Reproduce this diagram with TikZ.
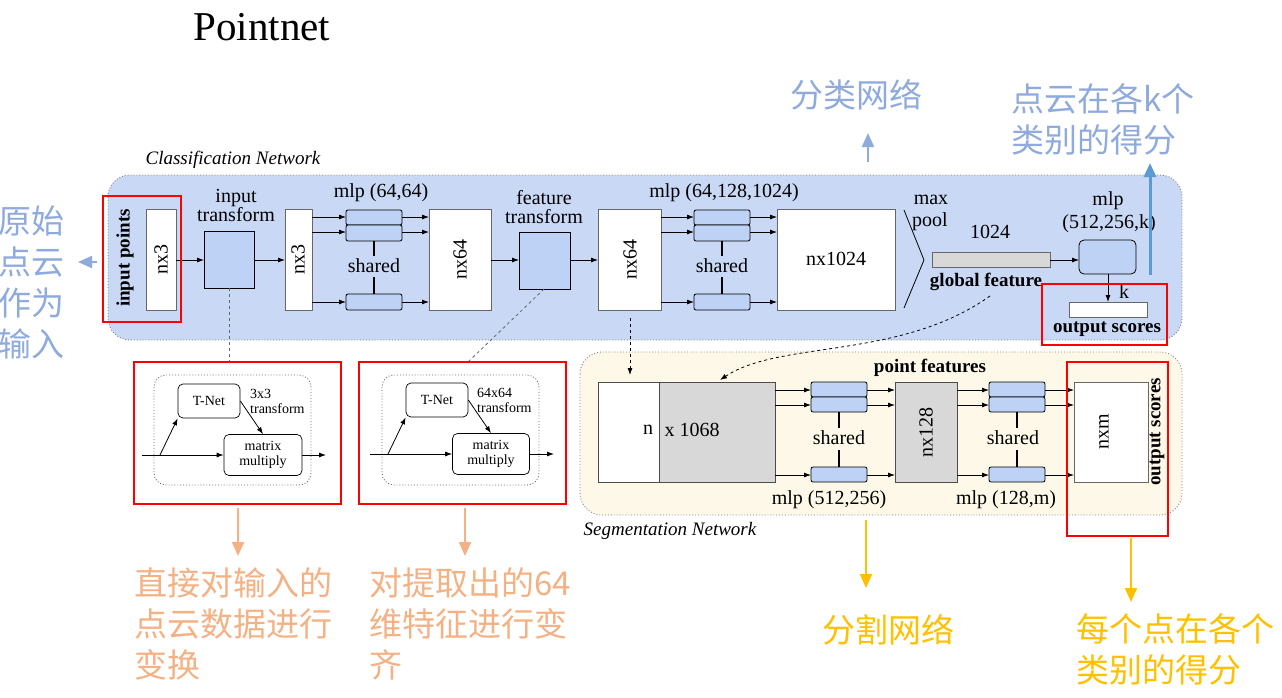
\documentclass[tikz,border=0pt]{standalone}
\usepackage{fontspec}
\setmainfont{Liberation Serif}
\newfontfamily\cjk{Noto Sans CJK SC}
\usetikzlibrary{arrows.meta,calc}
\definecolor{clsbg}{RGB}{200,216,245}
\definecolor{segbg}{RGB}{253,248,232}
\definecolor{boxblue}{RGB}{190,210,245}
\definecolor{annblue}{RGB}{143,170,220}
\definecolor{arrblue}{RGB}{91,155,213}
\definecolor{annor}{RGB}{244,177,131}
\definecolor{anngold}{RGB}{255,192,0}
\definecolor{gfill}{RGB}{216,216,216}
\tikzset{
  every node/.style={inner sep=0pt},
  lbl/.style={font=\fontsize{20}{22}\selectfont},
  blbl/.style={font=\fontsize{19}{21}\selectfont\bfseries},
  small/.style={font=\fontsize{14}{15}\selectfont},
  wbox/.style={draw=black!60,fill=white,line width=0.8pt},
  tbox/.style={draw=black,fill=boxblue,line width=0.8pt},
  mbox/.style={draw=black,fill=boxblue,rounded corners=2pt,line width=0.8pt},
  ibox/.style={draw=black,fill=white,rounded corners=5pt,line width=0.7pt},
  arr/.style={-{Latex[length=7pt,width=5pt]},line width=0.8pt},
  redb/.style={draw=red,line width=2.2pt},
  cjkt/.style={font=\fontsize{33}{41}\selectfont\cjk,anchor=west},
  aarr/.style={-{Triangle[length=14pt,width=12pt]},line width=2pt},
}
\begin{document}
\begin{tikzpicture}[x=1pt,y=-1pt]
\useasboundingbox (0,0) rectangle (1282,697);
\node[font=\fontsize{41}{44}\selectfont] (title) at (262,27) {Pointnet};
% backgrounds
\draw[fill=clsbg,draw=black!50,dotted,line width=0.9pt,rounded corners=22pt] (108,175) rectangle (1182,340);
\draw[fill=segbg,draw=black!50,dotted,line width=0.9pt,rounded corners=22pt] (580,352) rectangle (1182,515);
\node[font=\fontsize{19}{20}\selectfont\itshape] (cn) at (233,160) {Classification Network};
\node[font=\fontsize{19}{20}\selectfont\itshape] (sn) at (670,531) {Segmentation Network};
% classification
\node[blbl,rotate=90] (ip) at (125,258) {input points};
\draw[wbox] (146,209) rectangle (176,310); \node[lbl,rotate=90] (a1) at (161,259) {nx3};
\draw[tbox] (204,231) rectangle (254,288);
\node[lbl,align=center] at (236,205) {input\\[-3pt]transform};
\draw[wbox] (285,209) rectangle (312,310); \node[lbl,rotate=90] (a2) at (298,259) {nx3};
\draw[arr] (176,260) -- (204,260);
\draw[arr] (254,260) -- (285,260);
% mlp 64,64
\foreach \y/\h in {210/225,225/241,294/310}{\draw[mbox] (346,\y) rectangle (402,\h);}
\foreach \y in {217,232,302}{\draw[arr] (312,\y) -- (346,\y); \draw[arr] (402,\y) -- (429,\y);}
\draw[line width=1.2pt] (374,241) -- (374,256) (374,277) -- (374,294);
\node[lbl] at (374,266) {shared};
\node[lbl] at (381,193) {mlp (64,64)};
\draw[wbox] (429,209) rectangle (491,310); \node[lbl,rotate=90] at (460,259) {nx64};
\draw[tbox] (519,232) rectangle (570,289);
\node[lbl,align=center] at (544,207) {feature\\[-3pt]transform};
\draw[arr] (491,260) -- (519,260);
\draw[wbox] (598,209) rectangle (661,310); \node[lbl,rotate=90] at (630,259) {nx64};
\draw[arr] (570,260) -- (598,260);
% mlp 64,128,1024
\foreach \y/\h in {210/225,225/241,294/310}{\draw[mbox] (694,\y) rectangle (750,\h);}
\foreach \y in {217,232,302}{\draw[arr] (661,\y) -- (694,\y); \draw[arr] (750,\y) -- (777,\y);}
\draw[line width=1.2pt] (722,241) -- (722,256) (722,277) -- (722,294);
\node[lbl] at (722,266) {shared};
\node[lbl] at (724,193) {mlp (64,128,1024)};
\draw[wbox] (777,209) rectangle (895,310); \node[lbl] at (836,259) {nx1024};
\draw[line width=0.8pt] (904,210) -- (924,260) -- (904,308);
\node[lbl] at (931,200) {max}; \node[lbl] at (930,222) {pool};
\draw[draw=black!60,fill=gfill,line width=0.8pt] (932,252) rectangle (1050,267);
\node[lbl] at (990,232) {1024};
\node[blbl] at (986,282) {global feature};
\draw[mbox,rounded corners=5pt] (1079,240) rectangle (1136,274);
\node[lbl] at (1108,201) {mlp}; \node[lbl] at (1109,224) {(512,256,k)};
\draw[arr] (1050,260) -- (1079,260);
\draw[arr] (1108,274) -- (1108,302);
\node[lbl] at (1124,292) {k};
\draw[wbox] (1069,302) rectangle (1147,317);
\node[blbl] at (1107,329) {output scores};
% segmentation
\draw[draw=black!70,fill=white,line width=0.8pt] (598,382) rectangle (659,482);
\draw[draw=black!70,fill=gfill,line width=0.8pt] (659,382) rectangle (775,482);
\node[lbl] at (648,430) {n}; \node[lbl] at (692,430) {x 1068};
\foreach \y/\h in {382/397,397/412,467/482}{\draw[mbox] (811,\y) rectangle (867,\h);}
\foreach \y in {390,405,475}{\draw[arr] (775,\y) -- (811,\y); \draw[arr] (867,\y) -- (895,\y);}
\draw[line width=1.2pt] (839,412) -- (839,428) (839,450) -- (839,467);
\node[lbl] at (839,438) {shared};
\node[lbl] at (829,500) {mlp (512,256)};
\draw[draw=black!70,fill=gfill,line width=0.8pt] (895,382) rectangle (957,482);
\node[lbl,rotate=90] at (926,432) {nx128};
\foreach \y/\h in {382/397,397/412,467/482}{\draw[mbox] (989,\y) rectangle (1045,\h);}
\foreach \y in {390,405,475}{\draw[arr] (957,\y) -- (989,\y); \draw[arr] (1045,\y) -- (1074,\y);}
\draw[line width=1.2pt] (1017,412) -- (1017,428) (1017,450) -- (1017,467);
\node[lbl] at (1013,438) {shared};
\node[lbl] at (1006,500) {mlp (128,m)};
\draw[wbox] (1074,382) rectangle (1148,482);
\node[lbl,rotate=90] at (1104,432) {nxm};
\node[blbl,rotate=90] at (1157,432) {output scores};
\node[blbl] at (930,368) {point features};
% dashed links
\draw[arr,dashed] (630,318) -- (630,375);
\draw[arr,dashed] (990,296) .. controls (900,360) and (780,340) .. (720,380);
\draw[dashed,black!60,line width=0.8pt] (229,288) -- (229,362);
\draw[dashed,black!60,line width=0.8pt] (544,289) -- (468,362);
% inset 1
\draw[black!60,dotted,line width=0.9pt,rounded corners=12pt] (154,375) rectangle (311,485);
\node[ibox,minimum width=62pt,minimum height=34pt,small] (tn1) at (209,401) {T-Net};
\node[ibox,minimum width=78pt,minimum height=41pt,small,align=center] (mm1) at (263,455) {matrix\\multiply};
\draw[arr] (142,455) -- (mm1.west);
\draw[arr] (160,455) -- (tn1.south west);
\draw[arr] (tn1.east) -- (mm1.north);
\draw[arr] (mm1.east) -- (326,455);
\node[small,align=left,anchor=west] at (250,401) {3x3\\transform};
% inset 2
\draw[black!60,dotted,line width=0.9pt,rounded corners=12pt] (382,375) rectangle (539,485);
\node[ibox,minimum width=62pt,minimum height=34pt,small] (tn2) at (437,400) {T-Net};
\node[ibox,minimum width=77pt,minimum height=41pt,small,align=center] (mm2) at (491,454) {matrix\\multiply};
\draw[arr] (370,454) -- (mm2.west);
\draw[arr] (388,454) -- (tn2.south west);
\draw[arr] (tn2.east) -- (mm2.north);
\draw[arr] (mm2.east) -- (554,454);
\node[small,align=left,anchor=west] at (477,400) {64x64\\transform};
% red boxes
\draw[redb] (103,196) rectangle (181,322);
\draw[redb] (1042,284) rectangle (1167,345);
\draw[redb] (134,362) rectangle (341,504);
\draw[redb] (359,362) rectangle (566,504);
\draw[redb] (1067,362) rectangle (1168,536);
% annotations
\node[cjkt,text=annblue] at (790,95) {分类网络};
\draw[aarr,annblue] (868,162) -- (868,133);
\node[cjkt,text=annblue,align=left] at (1011,119) {点云在各k个\\类别的得分};
\draw[-{Triangle[length=14pt,width=12pt]},arrblue,line width=3pt] (1150,275) -- (1150,163);
\node[cjkt,text=annblue,align=left] at (-2,282) {原始\\点云\\作为\\输入};
\draw[aarr,annblue] (97,262) -- (78,262);
\draw[aarr,annor] (238,508) -- (238,556);
\draw[aarr,annor] (465,508) -- (465,556);
\node[cjkt,text=annor,align=left] at (134,624) {直接对输入的\\点云数据进行\\变换};
\node[cjkt,text=annor,align=left] at (369,624) {对提取出的64\\维特征进行变\\齐};
\draw[aarr,anngold] (866,520) -- (866,588);
\node[cjkt,text=anngold] at (822,630) {分割网络};
\draw[aarr,anngold] (1131,538) -- (1131,602);
\node[cjkt,text=anngold,align=left] at (1076,649) {每个点在各个\\类别的得分};
\end{tikzpicture}
\end{document}
